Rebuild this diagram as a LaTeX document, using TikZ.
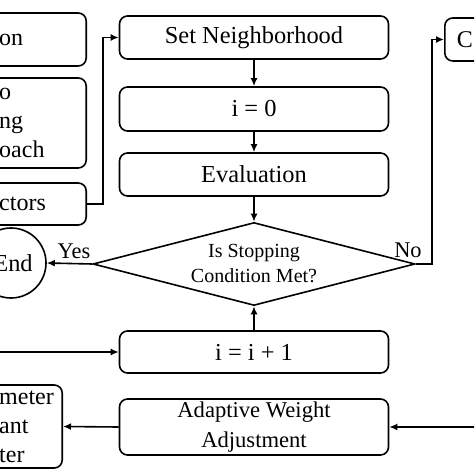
\documentclass[tikz,border=0pt]{standalone}
\usepackage{fontspec}
\setmainfont{Liberation Serif}
\usetikzlibrary{shapes.geometric,arrows.meta}
\tikzset{
  stage/.style={
    draw,
    rounded corners=4pt,
    minimum width=134.5pt,
    minimum height=21.5pt,
    inner sep=1pt,
    align=center,
    font=\fontsize{12.2}{14.5}\selectfont
  },
  sidestage/.style={
    draw,
    rounded corners=4pt,
    anchor=east,
    align=left,
    inner xsep=6pt,
    inner ysep=1pt,
    font=\fontsize{12}{14.5}\selectfont
  },
  check/.style={
    draw,
    shape=diamond,
    aspect=3.88,
    inner sep=0pt,
    minimum width=161pt,
    minimum height=41.5pt,
    align=center,
    font=\fontsize{10}{12.5}\selectfont
  },
  lbl/.style={
    inner sep=2pt,
    font=\fontsize{11.2}{13}\selectfont
  },
  flow/.style={-{Latex[length=4pt,width=3.5pt]}},
  every picture/.style={line width=0.8pt}
}
\begin{document}
\begin{tikzpicture}[x=0.5pt,y=-0.5pt]
  \useasboundingbox (0,0) rectangle (474,474);
  \clip (0,0) rectangle (474,474);
  % main column
  \node[stage] (setnb) at (254,37.5) {Set Neighborhood};
  \node[stage, minimum height=22pt] (init) at (254,109) {i = 0};
  \node[stage] (evalu) at (254,174.5) {Evaluation};
  \node[check] (cond) at (254,264) {Is Stopping\\Condition Met?};
  \node[stage, minimum height=21pt] (incr) at (254,352) {i = i + 1};
  \node[stage, minimum height=28pt, font=\fontsize{11.3}{15}\selectfont] (adapt) at (254,427) {Adaptive Weight\\Adjustment};
  % cut-off boxes at the sides
  \node[sidestage, text width=37.5pt, minimum height=26.5pt] (prevtop) at (87,39.5) {on};
  \node[sidestage, text width=37.5pt, minimum height=45pt] (prevmid) at (87,123) {o\\ng\\oach};
  \node[sidestage, text width=37.5pt, minimum height=21pt] (prevlow) at (87,204) {ctors};
  \node[sidestage, text width=25.5pt, minimum height=41.5pt] (params) at (63,426.5) {meter\\ant\\ter};
  \node[sidestage, anchor=west, text width=30pt, minimum height=21.5pt] (nextbox) at (444,39.5) {C};
  \node[draw, circle, minimum size=35pt, inner sep=0pt, font=\fontsize{12.2}{14.5}\selectfont] (stop) at (11,263) {\hspace*{2pt}End};
  \coordinate (inleft) at (-10,352);
  \coordinate (inright) at (484,427);

  \foreach \a/\b in {setnb/init, init/evalu, evalu/cond}
    \draw[flow] (\a) -- (\b);
  \draw[flow] (incr) -- (cond);
  \draw[flow] (prevlow.east) -- ++(16,0) |- (setnb.west);
  \draw[flow] (cond.west) -- node[lbl, above, pos=0.4] {Yes} (stop.east);
  \draw[flow] (cond.east) -- ++(16,0) |- (nextbox.west);
  \node[lbl] (no) at (408,250) {No};
  \draw[flow] (inleft) -- (incr.west);
  \draw[flow] (inright) -- (adapt.east);
  \draw[flow] (adapt.west) -- (params.east);
\end{tikzpicture}
\end{document}
